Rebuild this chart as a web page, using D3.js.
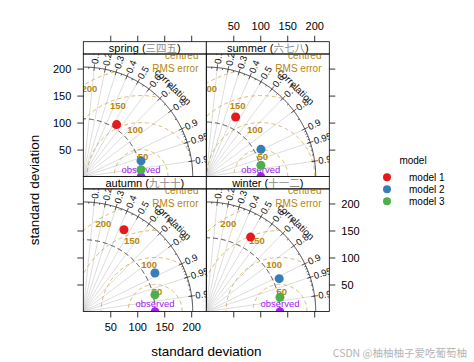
<!DOCTYPE html>
<html>
<head>
<meta charset="utf-8">
<script src="https://cdn.jsdelivr.net/npm/d3@7"></script>
<style>
body { margin: 0; background: #fff; }
text { font-family: "Liberation Sans", Arial, sans-serif; }
</style>
</head>
<body>
<svg id="chart" width="474" height="362"></svg>
<script>
// seasons and their strip labels
const seasons = ["spring", "summer", "autumn", "winter"];
const seasonsZh = ["三四五", "六七八", "九十十", "十一二"];

// observed standard deviation, one per season
const obsSd = [107, 101, 133, 136.5];

// models: standard deviation and correlation, one per season
const modelNames = ["model 1", "model 2", "model 3"];
const model1Sd = [114.4, 123, 169, 160.4];
const model1Cor = [0.54, 0.442, 0.446, 0.512];
const model2Sd = [110.9, 113.2, 150.7, 148.2];
const model2Cor = [0.965, 0.895, 0.881, 0.912];
const model3Sd = [107.8, 103.4, 136.3, 139];
const model3Cor = [0.993, 0.979, 0.974, 0.982];

const sdTicks = [50, 100, 150, 200];
const rmsLevels = [50, 100, 150, 200];
const corrLabels = [0.1, 0.2, 0.3, 0.4, 0.5, 0.6, 0.7, 0.8, 0.9, 0.95, 0.99];

const colors = ["#E41A1C", "#377EB8", "#4DAF4A"],
	obsCol = "#A020F0",
	rmsCol = "#B8860B";

const modelSd = [model1Sd, model2Sd, model3Sd],
	modelCor = [model1Cor, model2Cor, model3Cor];

let svg = d3.select('#chart');

let panelW = 123,
	panelH = 122.6,
	stripH = 12.3,
	leftX = 83.3,
	topY = 41.7;

let maxsd = 1.2 * d3.max([...obsSd, ...model1Sd, ...model2Sd, ...model3Sd]);

let x = d3.scaleLinear().domain([0, 228]).range([0, panelW]),
	y = d3.scaleLinear().domain([0, 227]).range([panelH, 0]);

let line = d3.line().x(d => x(d[0])).y(d => y(d[1]));

// points along an arc centred at (cx, 0)
function arcPts(cx, r, a0, a1) {
	return d3.range(0, 181).map(i => {
		let a = a0 + (a1 - a0) * i / 180;
		return [cx + r * Math.cos(a), r * Math.sin(a)];
	});
}

let defs = svg.append('defs');
defs.append('clipPath').attr('id', 'panel_clip')
	.append('rect')
	.attr('width', panelW)
	.attr('height', panelH);
defs.append('clipPath').attr('id', 'disc_clip')
	.append('path')
	.attr('d', line([[0, 0], ...arcPts(0, maxsd, 0, Math.PI / 2)]) + 'Z');

// label angles for the rms circles (index into seq(0, pi, by = .03))
let labelIdx = d3.range(5).map(i => Math.floor(45 + i * 25 / 4));

seasons.forEach((season, si) => {
	let col = si % 2,
		row = Math.floor(si / 2),
		px0 = leftX + col * panelW,
		py0 = topY + row * (stripH + panelH) + stripH,
		sdr = obsSd[si];

	// strip
	let strip = svg.append('g')
		.attr('transform', `translate(${px0}, ${py0 - stripH})`);
	strip.append('rect')
		.attr('width', panelW)
		.attr('height', stripH)
		.attr('fill', '#fff')
		.attr('stroke', '#000')
		.attr('stroke-width', 0.8);
	let st = strip.append('text')
		.attr('x', panelW / 2)
		.attr('y', stripH / 2 + 4)
		.attr('text-anchor', 'middle')
		.attr('font-size', 11)
		.attr('fill', '#000');
	st.append('tspan').text(season + ' (');
	st.append('tspan')
		.attr('fill', '#8c8c8c')
		.style('font-family', '"Noto Sans CJK SC"')
		.attr('font-size', 10.5)
		.text(seasonsZh[si]);
	st.append('tspan').text(')');

	let g = svg.append('g')
		.attr('transform', `translate(${px0}, ${py0})`);
	let inner = g.append('g').attr('clip-path', 'url(#panel_clip)');

	// correlation rays
	inner.selectAll('.ray')
		.data(corrLabels).enter()
		.append('line')
		.attr('x1', x(0)).attr('y1', y(0))
		.attr('x2', d => x(maxsd * d))
		.attr('y2', d => y(maxsd * Math.sqrt(1 - d * d)))
		.attr('stroke', '#cfcfcf')
		.attr('stroke-width', 0.7);

	// centred rms circles
	let rmsG = inner.append('g').attr('clip-path', 'url(#disc_clip)');
	rmsG.selectAll('.rms')
		.data(rmsLevels).enter()
		.append('path')
		.attr('d', d => line(arcPts(sdr, d, 0, Math.PI)))
		.attr('fill', 'none')
		.attr('stroke', rmsCol)
		.attr('stroke-opacity', 0.7)
		.attr('stroke-width', 0.8)
		.attr('stroke-dasharray', '4,3');

	// outer arc and observed arc
	inner.append('path')
		.attr('d', line(arcPts(0, maxsd, 0, Math.PI / 2)))
		.attr('fill', 'none')
		.attr('stroke', '#333')
		.attr('stroke-width', 0.9);
	inner.append('path')
		.attr('d', line(arcPts(0, sdr, 0, Math.PI / 2)))
		.attr('fill', 'none')
		.attr('stroke', '#333')
		.attr('stroke-width', 0.9)
		.attr('stroke-dasharray', '5,3');

	// correlation ticks
	let minor = d3.range(0.05, 0.96, 0.1).concat(d3.range(0.91, 0.995, 0.01));
	inner.selectAll('.mtick')
		.data(minor).enter()
		.append('line')
		.attr('x1', d => x(maxsd * 0.985 * d))
		.attr('y1', d => y(maxsd * 0.985 * Math.sqrt(1 - d * d)))
		.attr('x2', d => x(maxsd * d))
		.attr('y2', d => y(maxsd * Math.sqrt(1 - d * d)))
		.attr('stroke', '#333')
		.attr('stroke-width', 0.8);
	inner.selectAll('.btick')
		.data(corrLabels).enter()
		.append('line')
		.attr('x1', d => x(maxsd * 0.97 * d))
		.attr('y1', d => y(maxsd * 0.97 * Math.sqrt(1 - d * d)))
		.attr('x2', d => x(maxsd * 1.03 * d))
		.attr('y2', d => y(maxsd * 1.03 * Math.sqrt(1 - d * d)))
		.attr('stroke', '#333')
		.attr('stroke-width', 0.8);

	inner.selectAll('.clab')
		.data(corrLabels).enter()
		.append('text')
		.attr('transform', d => {
			let a = Math.acos(d);
			return `translate(${x(maxsd * 1.035 * d)}, ${y(maxsd * 1.035 * Math.sin(a))}) rotate(${-a * 180 / Math.PI})`;
		})
		.attr('dy', '0.35em')
		.attr('font-size', 9.5)
		.attr('fill', '#111')
		.text(d => d);

	inner.append('text')
		.attr('transform', `translate(${x(maxsd * 1.16 * Math.SQRT1_2)}, ${y(maxsd * 1.16 * Math.SQRT1_2)}) rotate(45)`)
		.attr('text-anchor', 'middle')
		.attr('dy', '0.35em')
		.attr('font-size', 10)
		.attr('fill', '#111')
		.text('correlation');

	// rms title
	let rt = inner.append('text')
		.attr('x', x(213.5))
		.attr('y', y(224))
		.attr('text-anchor', 'end')
		.attr('font-size', 10)
		.attr('fill', rmsCol);
	rt.append('tspan').attr('x', x(213.5)).attr('dy', '0.35em').text('centred');
	rt.append('tspan').attr('x', x(213.5)).attr('dy', '1.25em').text('RMS error');

	// rms labels
	inner.selectAll('.rlab')
		.data(rmsLevels).enter()
		.append('text')
		.attr('x', (d, i) => x(sdr + d * Math.cos((labelIdx[i + 1] - 1) * 0.03)))
		.attr('y', (d, i) => y(d * Math.sin((labelIdx[i + 1] - 1) * 0.03)))
		.attr('dy', 10)
		.attr('text-anchor', 'middle')
		.attr('font-size', 9.5)
		.attr('font-weight', 'bold')
		.attr('fill', rmsCol)
		.text(d => d);

	// observed
	inner.append('text')
		.attr('x', x(sdr))
		.attr('y', y(0) - 4)
		.attr('text-anchor', 'middle')
		.attr('font-size', 9.5)
		.attr('fill', obsCol)
		.text('observed');
	inner.append('circle')
		.attr('cx', x(sdr))
		.attr('cy', y(0))
		.attr('r', 4.3)
		.attr('fill', obsCol);

	let pts = modelNames.map((m, mi) => ({
		sd: modelSd[mi][si],
		cor: modelCor[mi][si],
		fill: colors[mi]
	}));
	inner.selectAll('.model_pt')
		.data(pts).enter()
		.append('circle')
		.attr('cx', d => x(d.sd * d.cor))
		.attr('cy', d => y(d.sd * Math.sqrt(1 - d.cor * d.cor)))
		.attr('r', 4.5)
		.attr('fill', d => d.fill);

	g.append('rect')
		.attr('width', panelW)
		.attr('height', panelH)
		.attr('fill', 'none')
		.attr('stroke', '#000')
		.attr('stroke-width', 0.8);

	// axes, alternating labels like lattice
	let fmt = d3.format('d'), none = () => '';
	let axY = d3.scaleLinear().domain(y.domain()).range([py0 + panelH, py0]),
		axX = d3.scaleLinear().domain(x.domain()).range([px0, px0 + panelW]);

	if (col == 0) {
		svg.append('g')
			.attr('transform', `translate(${leftX}, 0)`)
			.call(d3.axisLeft(axY).tickValues(sdTicks).tickSize(6).tickPadding(6)
				.tickFormat(row == 0 ? fmt : none));
	} else {
		svg.append('g')
			.attr('transform', `translate(${leftX + 2 * panelW}, 0)`)
			.call(d3.axisRight(axY).tickValues(sdTicks).tickSize(6).tickPadding(6)
				.tickFormat(row == 1 ? fmt : none));
	}
	if (row == 0) {
		svg.append('g')
			.attr('transform', `translate(0, ${topY})`)
			.call(d3.axisTop(axX).tickValues(sdTicks).tickSize(6).tickPadding(6)
				.tickFormat(col == 1 ? fmt : none));
	} else {
		svg.append('g')
			.attr('transform', `translate(0, ${py0 + panelH})`)
			.call(d3.axisBottom(axX).tickValues(sdTicks).tickSize(6).tickPadding(6)
				.tickFormat(col == 0 ? fmt : none));
	}
});

svg.selectAll('.domain').remove();
svg.selectAll('.tick text')
	.attr('font-size', 11)
	.attr('fill', '#000')
	.style('font-family', '"Liberation Sans", Arial, sans-serif');
svg.selectAll('.tick line').attr('stroke', '#000').attr('stroke-width', 0.8);

// axis titles
svg.append('text')
	.attr('x', leftX + panelW)
	.attr('y', 356)
	.attr('text-anchor', 'middle')
	.attr('font-size', 13.5)
	.text('standard deviation');
svg.append('text')
	.attr('transform', `translate(39, 190) rotate(-90)`)
	.attr('text-anchor', 'middle')
	.attr('font-size', 13.5)
	.text('standard deviation');

// legend
let legend = svg.append('g').attr('transform', 'translate(387, 160)');
legend.append('text')
	.attr('x', 26)
	.attr('y', 4)
	.attr('text-anchor', 'middle')
	.attr('font-size', 10)
	.text('model');
legend.selectAll('.key_pt')
	.data(modelNames).enter()
	.append('circle')
	.attr('cx', 0)
	.attr('cy', (d, i) => 17.3 + i * 12)
	.attr('r', 4)
	.attr('fill', (d, i) => colors[i]);
legend.selectAll('.key_text')
	.data(modelNames).enter()
	.append('text')
	.attr('x', 22)
	.attr('y', (d, i) => 17.3 + i * 12 + 3.6)
	.attr('font-size', 10)
	.text(d => d);

// watermark
svg.append('text')
	.attr('x', 467)
	.attr('y', 357)
	.attr('text-anchor', 'end')
	.attr('font-size', 10.5)
	.attr('fill', '#b5b5b5')
	.style('font-family', '"Noto Sans CJK SC", sans-serif')
	.text('CSDN @柚柚柚子爱吃葡萄柚');
</script>
</body>
</html>
